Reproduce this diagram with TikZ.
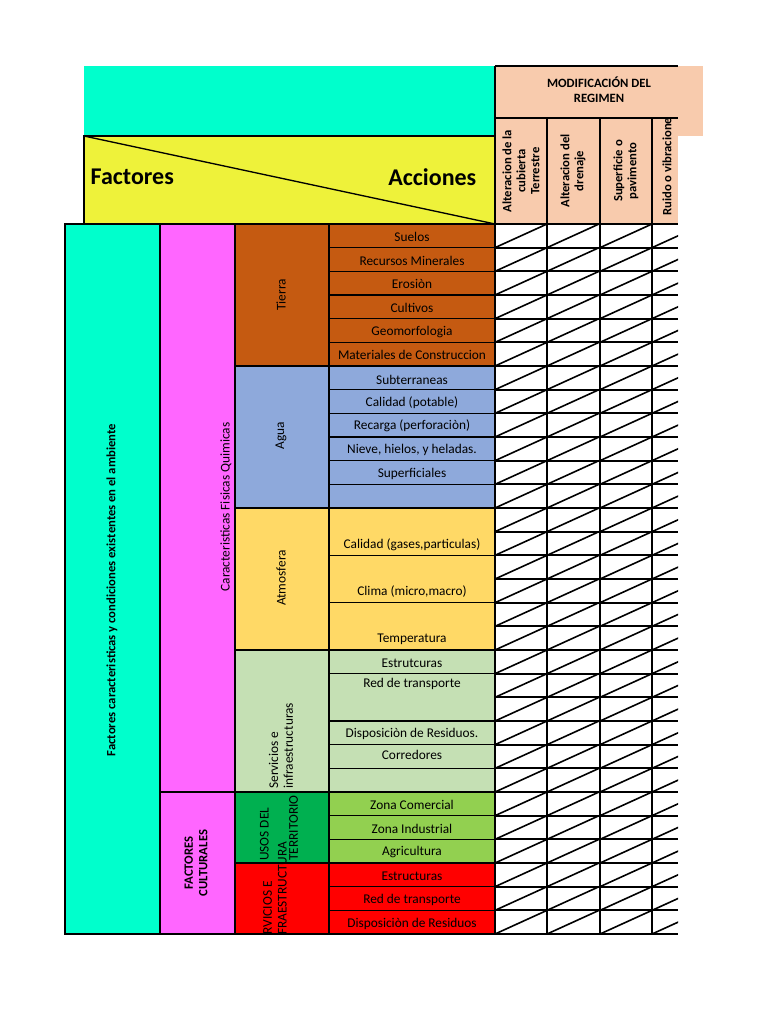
\documentclass[tikz,border=0pt]{standalone}
\usepackage{fontspec}
\setmainfont{Carlito}
\begin{document}
\begin{tikzpicture}[x=0.75pt,y=-0.75pt,
  cell/.style={draw=black,line width=1pt},
  lbl/.style={font=\fontsize{10}{11}\selectfont,inner sep=0pt,text=black},
  rlbl/.style={font=\fontsize{10}{11}\selectfont,inner sep=0pt,rotate=90,align=center},
  thick line/.style={line width=1.5pt}]
\useasboundingbox (0,0) rectangle (768,1024);
\definecolor{cyanc}{HTML}{00FFCC}
\definecolor{yel}{HTML}{EEF23A}
\definecolor{peach}{HTML}{F8CBAD}
\definecolor{mag}{HTML}{FF66FF}
\definecolor{brown}{HTML}{C55A11}
\definecolor{blu}{HTML}{8EA9DB}
\definecolor{atm}{HTML}{FFD966}
\definecolor{lgr}{HTML}{C5E0B4}
\definecolor{gr}{HTML}{92D050}
\definecolor{dgr}{HTML}{00B050}
\definecolor{rd}{HTML}{FF0000}
\def\R#1{(224+(#1)*23.667)}
% header
\fill[cyanc] (84,66) rectangle (495,136);
\fill[peach] (495,66) rectangle (703,136);
\fill[peach] (495,118) rectangle (678,224);
\draw[cell,fill=yel] (84,136) rectangle (495,224);
\draw[cell] (84,136) -- (495,224);
\node[font=\fontsize{18}{20}\selectfont\bfseries,anchor=west] (fac) at (86,177) {Factores};
\node[font=\fontsize{18}{20}\selectfont\bfseries,anchor=east] (acc) at (481,177) {Acciones};
\node[font=\fontsize{9.5}{11}\selectfont\bfseries,align=center] (mod) at (599,90) {MODIFICACIÓN DEL\\REGIMEN};
\draw[cell] (495,66) -- (495,224);
\draw[thick line] (495,66) -- (678,66);
\draw[thick line] (495,118) -- (678,118);
\foreach \x in {547,600,652}{\draw[cell] (\x,118) -- (\x,224);}
\node[rlbl,font=\fontsize{9.5}{10.5}\selectfont\bfseries] (h1) at (521,171) {Alteracion de la\\cubierta\\Terrestre};
\node[rlbl,font=\fontsize{9.5}{10.5}\selectfont\bfseries] (h2) at (573,171) {Alteracion del\\drenaje};
\node[rlbl,font=\fontsize{9.5}{10.5}\selectfont\bfseries] (h3) at (626,171) {Superficie o\\pavimento};
\begin{scope}
\clip (652,118) rectangle (678,224);
\node[rlbl,font=\fontsize{9.5}{10.5}\selectfont\bfseries,anchor=west] (h4) at (667,216) {Ruido o vibraciones};
\end{scope}
% left columns
\draw[cell,fill=cyanc] (65,224) rectangle (160,934);
\node[rlbl,font=\fontsize{9.5}{11}\selectfont\bfseries] (fc) at (112,590) {Factores caracteristicas y condiciones existentes en el ambiente};
\draw[cell,fill=mag] (160,224) rectangle (235,792);
\node[rlbl] (cfq) at (226,507) {Caracteristicas Fisicas Quimicas};
\draw[cell,fill=mag] (160,792) rectangle (235,934);
\node[rlbl,font=\fontsize{9.5}{11}\selectfont\bfseries] (fcu) at (196,863) {FACTORES\\CULTURALES};
% category cells
\draw[cell,fill=brown] (235,224) rectangle (329,{\R{6}});
\draw[cell,fill=blu] (235,{\R{6}}) rectangle (329,{\R{12}});
\draw[cell,fill=atm] (235,{\R{12}}) rectangle (329,{\R{18}});
\draw[cell,fill=lgr] (235,{\R{18}}) rectangle (329,{\R{24}});
\draw[cell,fill=dgr] (235,{\R{24}}) rectangle (329,{\R{27}});
\draw[cell,fill=rd] (235,{\R{27}}) rectangle (329,934);
\node[rlbl] (ti) at (281,295) {Tierra};
\node[rlbl] (ag) at (281,436) {Agua};
\node[rlbl] (at) at (281,578) {Atmosfera};
\node[rlbl,anchor=west,align=left] (si) at (281,789) {Servicios e\\infraestructuras};
\begin{scope}
\clip (235,{\R{24}}) rectangle (329,934);
\node[rlbl,align=left,anchor=west,font=\fontsize{10}{22}\selectfont] (ut) at (279,861) {USOS DEL\\TERRITORIO};
\node[rlbl,anchor=west,align=left] (sv) at (275,947) {SERVICIOS E\\INFRAESTRUCTURA};
\end{scope}
% item cells
\foreach \a/\b/\c/\t/\ty in {
 0/1/brown/Suelos/237, 1/2/brown/Recursos Minerales/261, 2/3/brown/Erosiòn/284,
 3/4/brown/Cultivos/308, 4/5/brown/Geomorfologia/332, 5/6/brown/Materiales de Construccion/355,
 6/7/blu/Subterraneas/380, 7/8/blu/Calidad (potable)/403, 8/9/blu/Recarga (perforaciòn)/426,
 9/10/blu/{Nieve, hielos, y heladas.}/450, 10/11/blu/Superficiales/474, 11/12/blu//496,
 12/14/atm/{Calidad (gases,particulas)}/545, 14/16/atm/{Clima (micro,macro)}/592, 16/18/atm/Temperatura/639,
 18/19/lgr/Estrutcuras/663, 19/21/lgr/Red de transporte/684, 21/22/lgr/Disposiciòn de Residuos./734,
 22/23/lgr/Corredores/755, 23/24/lgr//780,
 24/25/gr/Zona Comercial/805, 25/26/gr/Zona Industrial/829, 26/27/gr/Agricultura/852,
 27/28/rd/Estructuras/876, 28/29/rd/Red de transporte/900, 29/30/rd/Disposiciòn de Residuos/924}{
  \draw[cell,fill=\c] (329,{\R{\a}}) rectangle (495,{\R{\b}});
  \node[lbl] at (412,\ty) {\t};
}
% grid
\fill[white] (495,224) rectangle (678,934);
\begin{scope}
\clip (495,222) rectangle (678,936);
\foreach \i in {0,...,29}{
  \foreach \x in {495,547,600,652}{
    \draw[line width=1.2pt] (\x,{\R{\i+1}}) -- (\x+52,{\R{\i}});
  }
}
\end{scope}
\foreach \i in {0,...,30}{\draw[thick line] (495,{\R{\i}}) -- (678,{\R{\i}});}
\foreach \x in {495,547,600,652}{\draw[cell] (\x,224) -- (\x,934);}
\end{tikzpicture}
\end{document}
